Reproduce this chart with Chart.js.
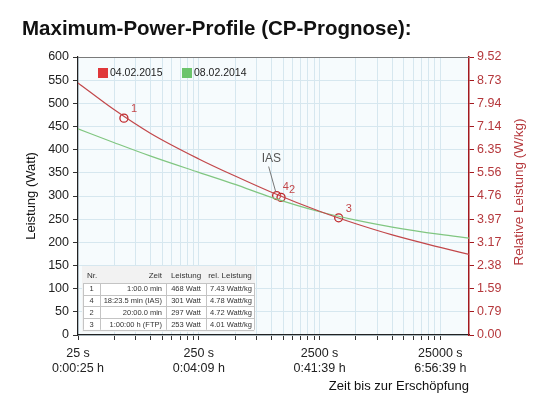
<!DOCTYPE html>
<html>
<head>
<meta charset="utf-8">
<script src="https://cdn.jsdelivr.net/npm/chart.js@4.4.1/dist/chart.umd.min.js"></script>
<style>
  html, body { margin: 0; padding: 0; background: #fff; }
  #wrap { width: 550px; height: 406px; position: relative; }
</style>
</head>
<body>
<div id="wrap"><canvas id="cp" width="550" height="406"></canvas></div>
<script>
// curve samples (seconds, watt)
var curveTimes = [25, 50, 100, 250, 500, 1000, 2500, 5000, 10000, 25000, 43200];
var watt2015 = [544, 486, 435, 380, 343, 308, 267, 240, 216, 189, 174];
var watt2014 = [445, 415, 386, 351, 325, 297, 266, 248, 233, 217, 209];

// marked test points
var markNr = ["1", "4", "2", "3"];
var markTimes = [60, 1103.5, 1200, 3600];
var markWatt = [468, 301, 297, 253];

// axis labels
var xMajor = [25, 250, 2500, 25000];
var xLabelSec = ["25 s", "250 s", "2500 s", "25000 s"];
var xLabelHms = ["0:00:25 h", "0:04:09 h", "0:41:39 h", "6:56:39 h"];
var relLabels = ["0.00", "0.79", "1.59", "2.38", "3.17", "3.97", "4.76", "5.56", "6.35", "7.14", "7.94", "8.73", "9.52"];

// table
var tableHead = ["Nr.", "Zeit", "Leistung", "rel. Leistung"];
var tableNr = ["1", "4", "2", "3"];
var tableZeit = ["1:00.0 min", "18:23.5 min (IAS)", "20:00.0 min", "1:00:00 h (FTP)"];
var tableWatt = ["468 Watt", "301 Watt", "297 Watt", "253 Watt"];
var tableRel = ["7.43 Watt/kg", "4.78 Watt/kg", "4.72 Watt/kg", "4.01 Watt/kg"];

var FONT = "'Liberation Sans', Arial, sans-serif";
var RED = "#c2474a";
var GREEN = "#80c680";
var AXRED = "#a3191f";
var GRID = "#d6e7ef";

function pts(xs, ys) {
  return xs.map(function (x, i) { return { x: x, y: ys[i] }; });
}

// minor grid positions 25*k*10^n
var xGridVals = [];
[25, 250, 2500, 25000].forEach(function (d) {
  for (var k = 1; k <= 9; k++) {
    if (d * k <= 43200) xGridVals.push(d * k);
  }
});

var decor = {
  id: "decor",
  beforeDraw: function (chart) {
    var a = chart.chartArea, c = chart.ctx;
    c.save();
    c.fillStyle = "#f6fbfd";
    c.fillRect(a.left, a.top, a.right - a.left, a.bottom - a.top);
    c.restore();
  },
  afterDatasetsDraw: function (chart) {
    var c = chart.ctx, a = chart.chartArea;
    var xs = chart.scales.x, ys = chart.scales.y;
    c.save();
    // top border
    c.strokeStyle = "#7a7a7a";
    c.lineWidth = 1;
    c.beginPath();
    c.moveTo(a.left, a.top + 0.5);
    c.lineTo(a.right, a.top + 0.5);
    c.stroke();

    // title
    c.fillStyle = "#111";
    c.font = "bold 20.5px " + FONT;
    c.textBaseline = "alphabetic";
    c.fillText("Maximum-Power-Profile (CP-Prognose):", 22, 35);

    // right axis title, reads bottom to top
    c.save();
    c.translate(519, (a.top + a.bottom) / 2 - 4);
    c.rotate(-Math.PI / 2);
    c.textAlign = "center";
    c.textBaseline = "middle";
    c.fillStyle = "#b5383c";
    c.font = "13.5px " + FONT;
    c.fillText("Relative Leistung (W/kg)", 0, 0);
    c.restore();

    // legend
    c.font = "10.5px " + FONT;
    c.textBaseline = "middle";
    c.fillStyle = "#e0383a";
    c.fillRect(98, 68, 10, 10);
    c.fillStyle = "#222";
    c.fillText("04.02.2015", 110, 73.5);
    c.fillStyle = "#6cc46c";
    c.fillRect(182, 68, 10, 10);
    c.fillStyle = "#222";
    c.fillText("08.02.2014", 194, 73.5);

    // point numbers
    c.font = "11px " + FONT;
    c.fillStyle = RED;
    c.textBaseline = "alphabetic";
    markNr.forEach(function (n, i) {
      var px = xs.getPixelForValue(markTimes[i]);
      var py = ys.getPixelForValue(markWatt[i]);
      var dx = n === "4" ? 6 : (n === "2" ? 8 : 7);
      var dy = n === "2" ? -4 : -6;
      c.fillText(n, px + dx, py + dy);
    });

    // IAS callout
    var ix = xs.getPixelForValue(markTimes[1]);
    var iy = ys.getPixelForValue(markWatt[1]);
    c.strokeStyle = "#777";
    c.lineWidth = 1;
    c.beginPath();
    c.moveTo(ix - 1, iy - 4);
    c.lineTo(ix - 8, iy - 29);
    c.stroke();
    c.fillStyle = "#555";
    c.font = "12px " + FONT;
    c.fillText("IAS", ix - 15, iy - 34);

    // table
    var tx = 83, tw = 171, hy = 267, hh = 16, rh = 11.7;
    var colX = [83, 100, 166, 206, 254];
    c.fillStyle = "#f2f2f2";
    c.fillRect(tx - 1, hy - 1, tw + 2, hh + rh * 4 + 3);
    c.fillStyle = "#fff";
    c.fillRect(tx, hy + hh, tw, rh * 4);
    c.strokeStyle = "#c4c4c4";
    c.lineWidth = 1;
    for (var r = 0; r <= 4; r++) {
      c.beginPath();
      c.moveTo(tx, Math.round(hy + hh + r * rh) + 0.5);
      c.lineTo(tx + tw, Math.round(hy + hh + r * rh) + 0.5);
      c.stroke();
    }
    colX.forEach(function (cx) {
      c.beginPath();
      c.moveTo(cx + 0.5, hy + hh);
      c.lineTo(cx + 0.5, hy + hh + rh * 4);
      c.stroke();
    });
    c.font = "8px " + FONT;
    c.fillStyle = "#333";
    c.textBaseline = "middle";
    var hyc = hy + hh / 2 + 1;
    c.textAlign = "left";
    c.fillText(tableHead[0], 87, hyc);
    c.textAlign = "right";
    c.fillText(tableHead[1], 162, hyc);
    c.textAlign = "center";
    c.fillText(tableHead[2], 186, hyc);
    c.fillText(tableHead[3], 230, hyc);
    c.font = "7.5px " + FONT;
    for (var i = 0; i < 4; i++) {
      var yc = hy + hh + rh * i + rh / 2 + 0.5;
      c.textAlign = "center";
      c.fillText(tableNr[i], 91.5, yc);
      c.textAlign = "right";
      c.fillText(tableZeit[i], 162, yc);
      c.textAlign = "center";
      c.fillText(tableWatt[i], 186, yc);
      c.textAlign = "left";
      c.fillText(tableRel[i], 210, yc);
    }
    c.restore();
  }
};

new Chart(document.getElementById("cp"), {
  type: "line",
  data: {
    datasets: [
      {
        label: "04.02.2015",
        data: pts(curveTimes, watt2015),
        borderColor: RED,
        borderWidth: 1.2,
        pointRadius: 0,
        cubicInterpolationMode: "monotone",
        fill: false
      },
      {
        label: "08.02.2014",
        data: pts(curveTimes, watt2014),
        borderColor: GREEN,
        borderWidth: 1.2,
        pointRadius: 0,
        cubicInterpolationMode: "monotone",
        fill: false
      },
      {
        label: "Punkte",
        data: pts(markTimes, markWatt),
        showLine: false,
        pointRadius: 4,
        pointBorderWidth: 1.3,
        pointBorderColor: "#c0282c",
        pointBackgroundColor: "rgba(255,255,255,0.2)"
      }
    ]
  },
  options: {
    responsive: false,
    animation: false,
    devicePixelRatio: 1,
    layout: { padding: { left: 20, right: 20, top: 57, bottom: 12 } },
    plugins: { legend: { display: false }, tooltip: { enabled: false } },
    scales: {
      x: {
        type: "logarithmic",
        min: 25,
        max: 43200,
        afterBuildTicks: function (s) {
          s.ticks = xGridVals.map(function (v) { return { value: v }; });
        },
        afterFit: function (s) { s.height = 59; },
        border: { color: "#222", width: 1.2 },
        grid: { color: GRID, tickColor: "#333", tickLength: 5 },
        ticks: {
          autoSkip: false,
          maxRotation: 0,
          padding: 6,
          color: "#222",
          font: { family: FONT, size: 12.5, lineHeight: 1.2 },
          callback: function (v) {
            var k = xMajor.indexOf(v);
            return k < 0 ? "" : [xLabelSec[k], xLabelHms[k]];
          }
        },
        title: {
          display: true,
          text: "Zeit bis zur Erschöpfung",
          align: "end",
          color: "#111",
          padding: 0,
          font: { family: FONT, size: 13 }
        }
      },
      y: {
        position: "left",
        min: 0,
        max: 600,
        afterFit: function (s) { s.width = 58; },
        border: { color: "#222", width: 1.2 },
        grid: { color: GRID, tickColor: "#333", tickLength: 5 },
        ticks: {
          stepSize: 50,
          padding: 4,
          color: "#222",
          font: { family: FONT, size: 12.5 }
        },
        title: {
          display: true,
          text: "Leistung (Watt)",
          color: "#111",
          padding: 4,
          font: { family: FONT, size: 13 }
        }
      },
      y2: {
        position: "right",
        min: 0,
        max: 9.52,
        afterBuildTicks: function (s) {
          s.ticks = relLabels.map(function (l, i) { return { value: 9.52 * i / 12 }; });
        },
        afterFit: function (s) { s.width = 61; },
        border: { color: AXRED, width: 1.5 },
        grid: { drawOnChartArea: false, tickColor: AXRED, tickLength: 5 },
        ticks: {
          padding: 3,
          color: "#b5383c",
          font: { family: FONT, size: 12.5 },
          callback: function (v, i) { return relLabels[i]; }
        },
        title: { display: false }
      }
    }
  },
  plugins: [decor]
});
</script>
</body>
</html>
